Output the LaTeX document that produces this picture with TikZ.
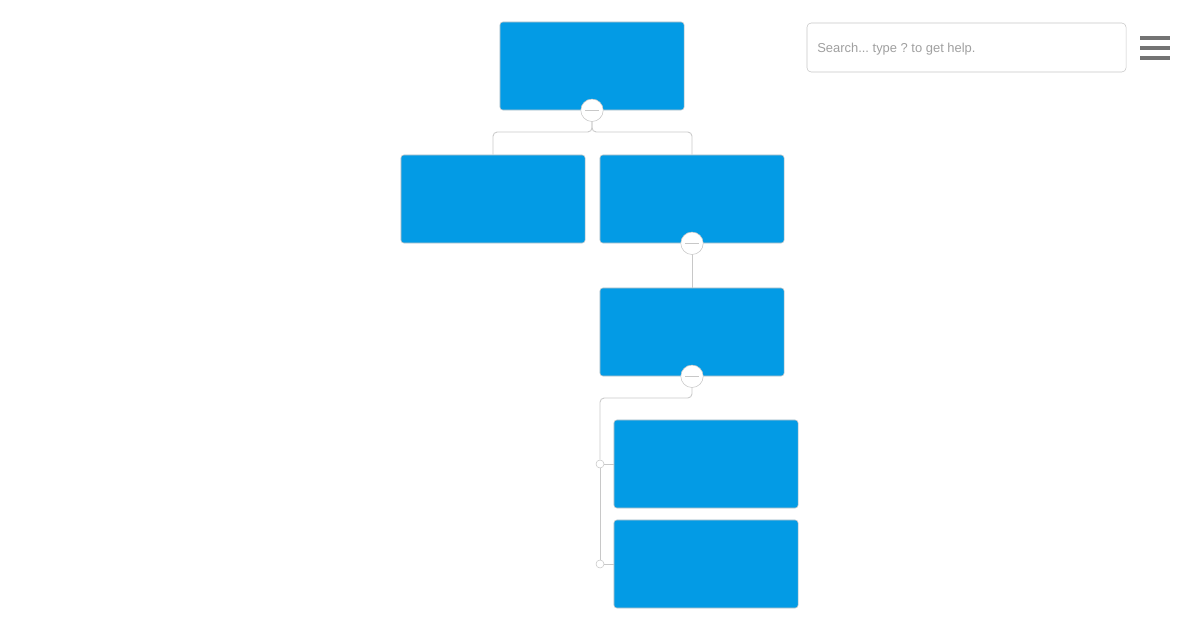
\documentclass[tikz,border=0pt]{standalone}
\usepackage{fontspec}
\setmainfont{Liberation Sans}
\usepackage{xcolor}
\definecolor{cardblue}{RGB}{3, 155, 229}
\definecolor{edgegray}{RGB}{200, 200, 200}
\definecolor{hintgray}{RGB}{160, 160, 160}
\definecolor{menugray}{RGB}{115, 115, 115}
\usetikzlibrary{positioning, calc}

\begin{document}
\frenchspacing
\begin{tikzpicture}[
    x=0.025cm, y=-0.025cm,
    card/.style={rectangle, draw=edgegray, fill=cardblue, rounded corners=2pt, minimum width=4.6cm, minimum height=2.2cm, inner sep=0pt},
    toggle/.style={circle, draw=edgegray, fill=white, minimum size=0.56cm, inner sep=0pt, path picture={\draw[edgegray] ([xshift=-0.17cm]path picture bounding box.center) -- ([xshift=0.17cm]path picture bounding box.center);}},
    dot/.style={circle, draw=edgegray, fill=white, minimum size=0.2cm, inner sep=0pt},
    link/.style={draw=edgegray, line width=0.6pt, rounded corners=3pt}
]
    \useasboundingbox (0,0) rectangle (1200,630);

    % cards
    \node[card] (root) at (592, 66) {};
    \node[card] (left) at (493, 199) {};
    \node[card] (right) at (692, 199) {};
    \node[card] (middle) at (692, 332) {};
    \node[card] (leafa) at (706, 464) {};
    \node[card] (leafb) at (706, 564) {};

    % links
    \draw[link] (592, 121) -- (592, 132) -| (left.north);
    \draw[link] (592, 121) -- (592, 132) -| (right.north);
    \draw[link] (692, 254) -- (middle.north);
    \coordinate (bend) at (600, 398);
    \node[dot] (dota) at (600, 464) {};
    \node[dot] (dotb) at (600, 564) {};
    \draw[link] (692, 387) |- (bend) -- (dota.north);
    \draw[link] (dota.south) -- (dotb.north);
    \draw[link] (dota.east) -- (leafa.west);
    \draw[link] (dotb.east) -- (leafb.west);

    % toggles
    \node[toggle] (roottoggle) at (root.south) {};
    \node[toggle] (righttoggle) at (right.south) {};
    \node[toggle] (middletoggle) at (middle.south) {};

    % search bar
    \node[rectangle, draw=edgegray, fill=white, rounded corners=3pt, minimum width=7.975cm, minimum height=1.225cm, inner sep=0pt] (search) at (966.5, 47.5) {};
    \node[anchor=west, text=hintgray, font=\fontsize{9.2}{11}\selectfont, inner sep=0pt] (hint) at (817, 49.5) {Search... type ? to get help.};

    % menu
    \foreach \y in {38, 48, 58}
        \draw[menugray, line width=2.4pt] (1140, \y) -- (1170, \y);
\end{tikzpicture}
\end{document}
